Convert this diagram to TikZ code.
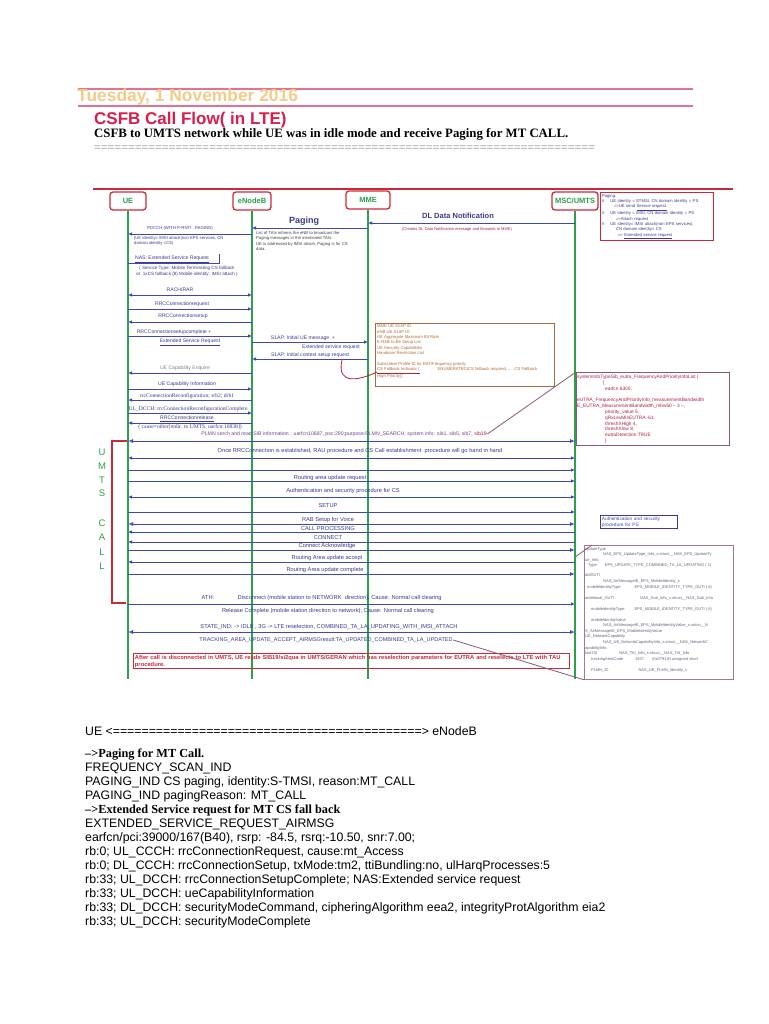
\documentclass[tikz,border=0pt]{standalone}
\usepackage{fontspec}
\setmainfont{Liberation Sans}
\newfontfamily\serifface{Liberation Serif}
\usetikzlibrary{arrows.meta, positioning, calc}

\definecolor{lifegreen}{HTML}{2E9F4A}
\definecolor{boxred}{HTML}{C92A3A}
\definecolor{msgblue}{HTML}{3F48B0}
\definecolor{lblblue}{HTML}{3B3B8F}
\definecolor{headpink}{HTML}{E2728E}
\definecolor{datetan}{HTML}{F2CD8A}
\definecolor{titlered}{HTML}{D81E4A}
\definecolor{notebrown}{HTML}{9C6E4A}
\definecolor{notetext}{HTML}{B46A30}
\definecolor{sibred}{HTML}{B0203C}
\definecolor{sibframe}{HTML}{8A5878}
\definecolor{taugray}{HTML}{6E607E}
\definecolor{plmnpurple}{HTML}{6E4A8C}

\newcommand\msgsize{\fontsize{5.1}{6}\selectfont}
\newcommand\umtssize{\fontsize{5.7}{6.5}\selectfont}
\newcommand\notesize{\fontsize{4.2}{5.4}\selectfont}

\begin{document}
\begin{tikzpicture}[x=1pt, y=-1pt,
		actor/.style={draw=boxred, fill=white, line width=1.3pt, rounded corners=3pt,
			text=lifegreen, font=\bfseries\fontsize{7.5}{8}\selectfont,
			minimum height=18pt, inner sep=1pt},
		lifeline/.style={draw=lifegreen, line width=1.4pt},
		msg/.style={draw=msgblue, line width=0.9pt, -{Latex[length=4pt,width=3.5pt]}},
		dmsg/.style={msg, {Latex[length=4pt,width=3.5pt]}-{Latex[length=4pt,width=3.5pt]}},
		omsg/.style={draw=msgblue, line width=0.9pt, -{Latex[open,length=5pt,width=4pt]}},
		odmsg/.style={omsg, {Latex[open,length=5pt,width=4pt]}-{Latex[open,length=5pt,width=4pt]}},
		lbl/.style={text=lblblue, font=\msgsize, inner sep=0.5pt},
		ulbl/.style={lbl, font=\umtssize},
		serlbl/.style={lbl, font=\serifface\fontsize{5.6}{6.5}\selectfont},
		note/.style={font=\notesize, align=left, inner sep=0pt, anchor=north west},
		letter/.style={text=lifegreen, font=\fontsize{9.5}{10}\selectfont}
		]
		\useasboundingbox (0,0) rectangle (768,1024);
		\fill[white] (0,0) rectangle (768,1024);
		
		% 1. Cabecera de la página
		\draw[headpink, line width=1.2pt] (78,89) -- (693,89);
		\draw[headpink, line width=1.2pt] (78,106) -- (693,106);
		\node[anchor=west, inner sep=0, text=datetan, font=\bfseries\fontsize{17.4}{19}\selectfont] (date) at (77,97) {Tuesday, 1 November 2016};
		\node[anchor=west, inner sep=0, text=titlered, font=\bfseries\fontsize{17}{19}\selectfont] (title) at (94,120) {CSFB Call Flow( in LTE)};
		\node[anchor=west, inner sep=0, font=\serifface\bfseries\fontsize{12.8}{14}\selectfont] (subtitle) at (94,134) {CSFB to UMTS network while UE was in idle mode and receive Paging for MT CALL.};
		\node[anchor=west, inner sep=0, text=gray, font=\serifface\fontsize{12}{14}\selectfont] (eqline) at (94,149) {==========================================================================};
		
		% 2. Entidades y líneas de vida
		\draw[boxred, line width=1.8pt] (93,189) -- (733,189);
		\node[actor, minimum width=36pt] (ue) at (128,201) {UE};
		\node[actor, minimum width=38pt] (enb) at (252,201) {eNodeB};
		\node[actor, minimum width=44pt] (mme) at (368,200) {MME};
		\node[actor, minimum width=46pt] (msc) at (575,201) {MSC/UMTS};
		\foreach \ent in {ue, enb, mme, msc}
		\draw[lifeline] (\ent.south) -- (\ent |- 0,679);
		
		% 3. Paging
		\draw[msg] (msc |- 0,223) -- (mme |- 0,223);
		\node[text=lblblue, inner sep=0, font=\bfseries\fontsize{7.5}{9}\selectfont] (dlnotif) at (458,216) {DL Data Notification};
		\node[inner sep=0, text=sibred, font=\fontsize{4}{5}\selectfont] (dlsub) at (457,229) {(Creates DL Data Notification message and forwards to MME)};
		\draw[msg] (mme |- 0,228) -- (enb |- 0,228);
		\node[text=lblblue, inner sep=0, font=\bfseries\fontsize{9}{10}\selectfont] (paginglbl) at (304,221) {Paging};
		\draw[msg] (enb |- 0,234) -- (ue |- 0,234);
		\node[lbl, font=\fontsize{4.3}{5}\selectfont] (pdcch) at (180,228) {PDCCH (WITH P-RNTI : PAGING)};
		\node[note, text=lblblue] (ueident) at (134,236) {[UE identity= IMSI attach(non EPS services, CN\\domain identity =CS)};
		\node[note, text=black!75] (tailist) at (256,231) {List of TAIs informs the eNB to broadcast the\\Paging messages in the mentioned TAIs.\\UE is addressed by IMSI attach, Paging is for CS\\data.};
		\node[note, draw=boxred, line width=1pt, text=lblblue, text width=110pt, inner sep=1.5pt] (pagingnote) at (600,192) {Paging:\\
			\#\hspace{6pt}UE identity = STMSI, CN domain identity = PS\\
			\hspace*{12pt}=>UE send \underline{Service request.}\\
			\#\hspace{6pt}UE identity = IMSI, CN domain identity = PS\\
			\hspace*{14pt}=>Attach request\\
			\#\hspace{6pt}UE identity= IMSI attach(non EPS services),\\
			\hspace*{14pt}CN domain identity= CS\\
			\hspace*{16pt}=> \underline{Extended service request}};
		
		% 4. Extended service request
		\node[lbl] (nasesr) at (172,259) {\underline{NAS: Extended Service Request}};
		\coordinate (nastick) at (219,254);
		\draw[msgblue, line width=0.9pt] (ue |- 0,263) -- (nastick |- 0,263) -- (nastick);
		\node[lbl, align=center, font=\fontsize{4.6}{6}\selectfont] (servtype) at (187,271) {( Service Type: Mobile Terminating CS fallback\\or \ 1xCS fallback (8) Mobile identity: IMSI attach )};
		
		% 5. Establecimiento RRC
		\draw[dmsg] (ue |- 0,295) -- (enb |- 0,295);
		\node[lbl] (rach) at (180,290) {RACH/RAR};
		\draw[msg] (ue |- 0,309) -- (enb |- 0,309);
		\node[lbl] (rrcreq) at (182,304) {RRCConnectionrequest};
		\draw[msg] (enb |- 0,322) -- (ue |- 0,322);
		\node[lbl] (rrcsetup) at (183,316) {RRCConnectionsetup};
		\draw[msg] (ue |- 0,336) -- (enb |- 0,336);
		\node[lbl] (rrccomp) at (174,332) {RRCConnectionsetupcomplete +};
		\node[lbl] (rrcext) at (190,342) {\underline{Extended Service Request}};
		\draw[msg] (enb |- 0,342) -- (mme |- 0,342);
		\node[lbl] (s1init) at (303,338) {S1AP: Initial UE message \ +};
		\node[lbl] (s1ext) at (331,347) {Extended service request};
		\draw[msg] (mme |- 0,359) -- (enb |- 0,359);
		\node[lbl] (s1ctx) at (310,355) {S1AP: Initial context setup request};
		
		% Nota S1AP
		\node[draw=notebrown, line width=0.8pt, minimum width=179pt, minimum height=63pt, anchor=north west] (s1apbox) at (375,323) {};
		\node[note, text=notetext] (s1aptext) at ([shift={(2pt,-1.5pt)}]s1apbox.north west) {MME UE S1AP ID\\
			eNB UE S1AP ID\\
			UE Aggregate Maximum Bit Rate\\
			E-RAB to Be Setup List\\
			UE Security Capabilities\\
			Handover Restriction List\\[5.4pt]
			Subscriber Profile ID for RAT/Frequency priority\\
			{\color{sibred}\underline{\color{notetext}CS Fallback Indicator (}}\hspace{18pt}ENUMERATED(CS fallback required, ... ,CS Fallback\\
			High Priority))};
		\coordinate (curvestart) at (342,360);
		\draw[sibred, line width=0.8pt] (curvestart) .. controls (336,386) and (360,380) .. ([shift={(2pt,-49pt)}]s1apbox.north west);
		
		% 6. Capacidades y reconfiguración
		\draw[msg] (enb |- 0,373) -- (ue |- 0,373);
		\node[lbl, text=gray] (capenq) at (185,368) {UE Capability Enquire};
		\draw[msg] (ue |- 0,389) -- (enb |- 0,389);
		\node[lbl] (capinfo) at (187,384) {UE Capability Information};
		\draw[msg] (enb |- 0,400) -- (ue |- 0,400);
		\node[serlbl] (reconf) at (187,396) {rrcConnectionReconfiguration; srb2; drb1};
		\draw[msg] (ue |- 0,413) -- (enb |- 0,413);
		\node[serlbl] (reconfc) at (188,409) {UL\_DCCH: rrcConnectionReconfigurationComplete};
		\draw[msg] (enb |- 0,423) -- (ue |- 0,423);
		\node[lbl] (release) at (187,419) {\underline{RRCConnectionrelease}};
		\node[serlbl] (cause) at (190,427) {( cause=other[redir. to UMTS, uarfcn:10838])};
		
		% 7. Lectura SIB
		\draw[odmsg] (ue |- 0,441) -- (msc |- 0,441);
		\node[lbl, text=plmnpurple, font=\fontsize{5.2}{6}\selectfont] (plmn) at (344,434) {PLMN serch and read SIB information : uarfcn10687, psc:290;purpose:PLMN\_SEARCH; system info: sib1, sib5, sib7, \textcolor{sibred}{sib19}};
		\node[draw=sibframe, line width=0.9pt, minimum width=153pt, minimum height=73pt, anchor=north west] (sibbox) at (576,372) {};
		\node[note, text=sibred, font=\fontsize{4.8}{5.8}\selectfont] (sibtext) at ([shift={(1pt,-3pt)}]sibbox.north west) {systemInfoTypeSib\_eutra\_FrequencyAndPriorityInfoList \{\\
			\hspace*{26pt}\{\\
			\hspace*{28pt}earfcn 6300,\\[5.8pt]
			eUTRA\_FrequencyAndPriorityInfo\_measurementBandwidth\\
			E\_EUTRA\_MeasurementBandwidth\_mbw50 -- 3 --,\\
			\hspace*{28pt}priority\_value 5,\\
			\hspace*{28pt}qRxLevMinEUTRA -61,\\
			\hspace*{28pt}threshXHigh 4,\\
			\hspace*{28pt}threshXlow 8,\\
			\hspace*{28pt}eutraDetection TRUE\\
			\hspace*{28pt}\}};
		\draw[sibframe, line width=0.8pt] (plmn.east) -- (sibbox.north west);
		
		% 8. Llamada CS en UMTS
		\draw[boxred, line width=1.3pt] (127,441) -- (112,441) -- (112,603) -- (126,603);
		\foreach \ch/\yy in {U/452, M/466, T/480, S/493, C/523, A/537, L/552, L/566}
		\node[letter] (ltr\yy) at (102,\yy) {\ch};
		
		\draw[dmsg] (ue |- 0,458) -- (msc |- 0,458);
		\node[ulbl] (rauhand) at (360,451) {Once RRCConnection is established, RAU procedure and CS Call establishment \ procedure will go hand in hand};
		\draw[msg] (ue |- 0,470) -- (msc |- 0,470);
		\draw[msg] (ue |- 0,481) -- (msc |- 0,481);
		\node[ulbl] (raureq) at (330,478) {Routing area update request};
		\draw[dmsg] (ue |- 0,497) -- (msc |- 0,497);
		\node[ulbl] (authcs) at (343,491) {Authentication and security procedure for CS};
		\draw[msg] (ue |- 0,512) -- (msc |- 0,512);
		\node[ulbl] (setup) at (328,506) {SETUP};
		\draw[odmsg] (ue |- 0,524) -- (msc |- 0,524);
		\node[ulbl] (rab) at (328,520) {RAB Setup for Voice};
		\draw[msg] (msc |- 0,532) -- (ue |- 0,532);
		\node[ulbl] (callproc) at (328,528.5) {CALL PROCESSING};
		\draw[msg] (msc |- 0,542) -- (ue |- 0,542);
		\node[ulbl] (connect) at (328,538) {CONNECT};
		\draw[omsg] (ue |- 0,550) -- (msc |- 0,550);
		\node[ulbl] (connack) at (327,547) {\underline{Connect Acknowledge}};
		\draw[msg] (msc |- 0,562) -- (ue |- 0,562);
		\node[ulbl] (rauacc) at (327,558) {Routing Area update accept};
		\draw[omsg] (ue |- 0,574) -- (msc |- 0,574);
		\node[ulbl] (raucomp) at (325,570) {Routing Area update complete};
		
		\node[note, draw=lblblue, line width=0.8pt, text=msgblue, text width=74pt, inner sep=1.5pt, font=\fontsize{4.8}{6}\selectfont] (authps) at (600,515) {Authentication and security\\procedure for PS};
		
		% 9. Liberación y vuelta a LTE
		\draw[msg] (ue |- 0,604) -- (msc |- 0,604);
		\node[ulbl] (ath) at (208,598) {ATH:};
		\node[ulbl, anchor=west] (disc) at (237,598) {Disconnect (mobile station to NETWORK \ direction); Cause: Normal call clearing};
		\node[ulbl] (relcomp) at (328,611) {Release Complete (mobile station direction to network); Cause: Normal call clearing};
		\draw[odmsg] (ue |- 0,632) -- (msc |- 0,632);
		\node[ulbl] (stateind) at (329,627) {STATE\_IND: -> IDLE , 3G -> LTE reselection, COMBINED\_TA\_LA\_UPDATING\_WITH\_IMSI\_ATTACH};
		\node[ulbl, font=\fontsize{5.5}{6.5}\selectfont] (tauacc) at (326,640) {TRACKING\_AREA\_UPDATE\_ACCEPT\_AIRMSGresult:TA\_UPDATED\_COMBINED\_TA\_LA\_UPDATED};
		\node[note, draw=boxred, line width=0.9pt, text=boxred, text width=433pt, inner sep=1.5pt, font=\bfseries\fontsize{5.8}{7}\selectfont] (afternote) at (133,653) {After call is disconnected in UMTS, UE reads SIB19/si2qua in UMTS/GERAN which has reselection parameters for EUTRA and reselects to LTE with TAU procedure.};
		
		% Nota TAU
		\node[draw=sibframe!80, line width=0.8pt, minimum width=149pt, minimum height=134pt, anchor=north west] (taubox) at (584,545) {};
		\begin{scope}
			\clip (taubox.north west) rectangle (taubox.south east);
			\node[note, text=taugray, font=\fontsize{4}{5.6}\selectfont] (tautext) at ([shift={(1pt,-2pt)}]taubox.north west) {updateType\\
				\hspace*{18pt}NAS\_EPS\_UpdateType\_Info\_s.struct\_\_NAS\_EPS\_UpdateTy\\
				ue\_Info\\
				\hspace*{3pt}Type\hspace{8pt}EPS\_UPDATE\_TYPE\_COMBINED\_TA\_LA\_UPDATING ( 1)\\[4.4pt]
				oldGUTI\\
				\hspace*{18pt}NAS\_AirMessageIE\_EPS\_MobileIdentity\_s\\
				\hspace*{2pt}mobileIdentityType\hspace{14pt}EPS\_MOBILE\_IDENTITY\_TYPE\_GUTI ( 6)\\[5.4pt]
				additional\_GUTI\hspace{26pt}NAS\_Guti\_Info\_s.struct\_\_NAS\_Guti\_Info\\[5.4pt]
				\hspace*{6pt}mobileIdentityType\hspace{10pt}EPS\_MOBILE\_IDENTITY\_TYPE\_GUTI ( 6)\\[5.4pt]
				\hspace*{6pt}mobileIdentityValue\\
				\hspace*{18pt}NAS\_AirMessageIE\_EPS\_MobileIdentityValue\_s.union\_\_N\\
				S\_AirMessageIE\_EPS\_MobileIdentityValue\\
				UE\_NetworkCapability\\
				\hspace*{18pt}NAS\_UE\_NetworkCapabilityInfo\_s.struct\_\_NAS\_NetworkC\\
				apabilityInfo\\
				lastTAI\hspace{22pt}NAS\_TAI\_Info\_s.struct\_\_NAS\_TAI\_Info\\
				\hspace*{6pt}trackingAreaCode\hspace{12pt}1937\hspace{8pt}(0x0791)H.unsigned short\\[5.4pt]
				\hspace*{6pt}PLMN\_ID\hspace{30pt}NAS\_UE\_PLMN\_Identity\_s};
		\end{scope}
		\draw[sibframe, line width=0.8pt] (msc |- 0,557) -- ([xshift=8pt]taubox.north west);
		\draw[sibframe, line width=0.8pt] (tauacc.east) -- (taubox.south west);
		
		% 10. Registro de mensajes
		\node[anchor=west, inner sep=0, font=\fontsize{12.3}{14}\selectfont] (uelink) at (85,731) {UE <===========================================> eNodeB};
		\node[anchor=north west, align=left, inner sep=0, font=\fontsize{12.3}{14}\selectfont] (log) at (85,749) {%
			{\serifface\bfseries –>Paging for MT Call.}\\
			FREQUENCY\_SCAN\_IND\\
			PAGING\_IND CS paging, identity:S-TMSI, reason:MT\_CALL\\
			PAGING\_IND pagingReason: MT\_CALL\\
			{\serifface\bfseries –>Extended Service request for MT CS fall back}\\
			EXTENDED\_SERVICE\_REQUEST\_AIRMSG\\
			earfcn/pci:39000/167(B40), rsrp: -84.5, rsrq:-10.50, snr:7.00;\\
			rb:0; UL\_CCCH: rrcConnectionRequest, cause:mt\_Access\\
			rb:0; DL\_CCCH: rrcConnectionSetup, txMode:tm2, ttiBundling:no, ulHarqProcesses:5\\
			rb:33; UL\_DCCH: rrcConnectionSetupComplete; NAS:Extended service request\\
			rb:33; UL\_DCCH: ueCapabilityInformation\\
			rb:33; DL\_DCCH: securityModeCommand, cipheringAlgorithm eea2, integrityProtAlgorithm eia2\\
			rb:33; UL\_DCCH: securityModeComplete};
		
	\end{tikzpicture}
\end{document}
